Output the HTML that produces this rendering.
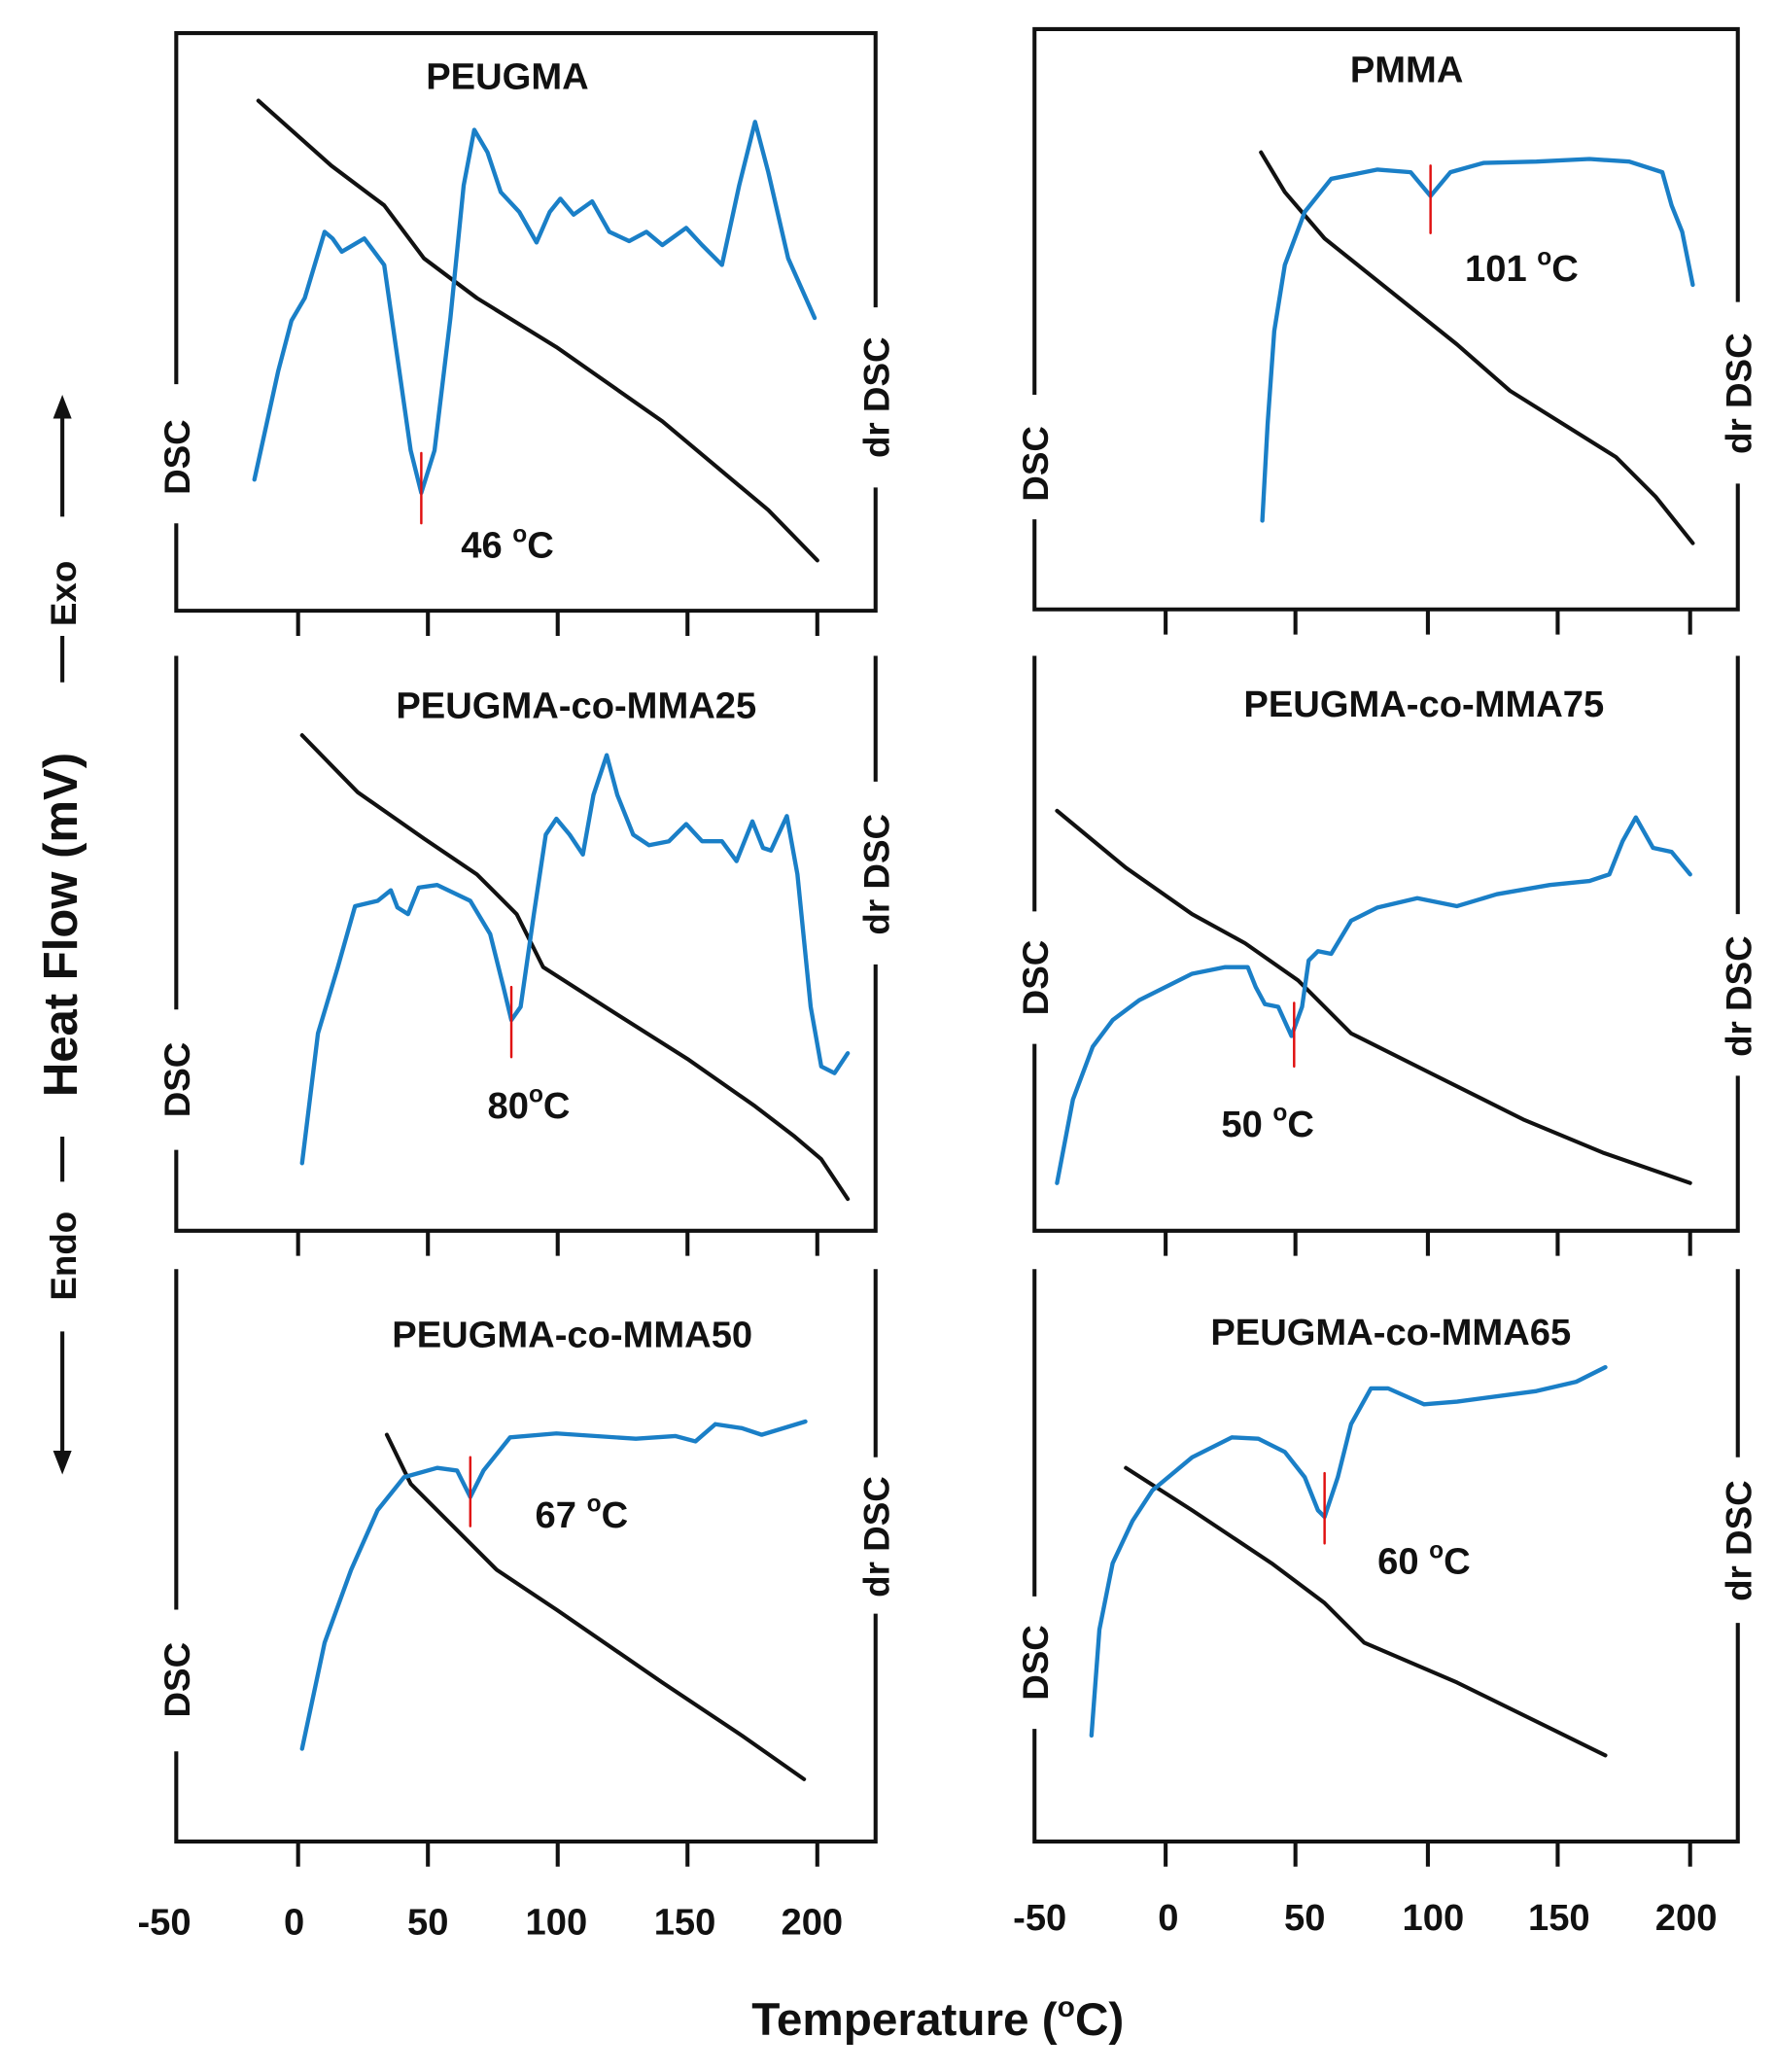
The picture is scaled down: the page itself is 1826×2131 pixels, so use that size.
<!DOCTYPE html>
<html><head><meta charset="utf-8"><style>
html,body{margin:0;padding:0;background:#fff}
svg{display:block}
text{font-family:"Liberation Sans",sans-serif;font-weight:bold;fill:#111}
</style></head><body>
<svg width="1826" height="2131" viewBox="0 0 1340 1564" xmlns="http://www.w3.org/2000/svg">
<g stroke="#111" stroke-width="3" fill="none" stroke-linecap="butt">
<!-- Top-left panel -->
<polyline points="133,290 133,25 661,25 661,232"/>
<polyline points="133,395 133,461 661,461 661,368"/>
<!-- Row 2 left -->
<line x1="133" y1="495" x2="133" y2="762"/>
<polyline points="133,868 133,929 661,929 661,728"/>
<line x1="661" y1="495" x2="661" y2="590"/>
<!-- Row 3 left -->
<line x1="133" y1="958" x2="133" y2="1215"/>
<polyline points="133,1322 133,1390 661,1390 661,1218"/>
<line x1="661" y1="958" x2="661" y2="1100"/>
<!-- Top-right -->
<polyline points="781,298 781,22 1312,22 1312,228"/>
<polyline points="781,392 781,460 1312,460 1312,365"/>
<!-- Row2 right -->
<line x1="781" y1="495" x2="781" y2="688"/>
<polyline points="781,788 781,929 1312,929 1312,812"/>
<line x1="1312" y1="495" x2="1312" y2="690"/>
<!-- Row3 right -->
<line x1="781" y1="958" x2="781" y2="1205"/>
<polyline points="781,1305 781,1390 1312,1390 1312,1225"/>
<line x1="1312" y1="958" x2="1312" y2="1100"/>
<!-- ticks left -->
<path d="M225,461v19M323,461v19M421,461v19M519,461v19M617,461v19
M225,929v19M323,929v19M421,929v19M519,929v19M617,929v19
M225,1390v19M323,1390v19M421,1390v19M519,1390v19M617,1390v19
M880,460v19M978,460v19M1078,460v19M1176,460v19M1276,460v19
M880,929v19M978,929v19M1078,929v19M1176,929v19M1276,929v19
M880,1390v19M978,1390v19M1078,1390v19M1176,1390v19M1276,1390v19"/>
<!-- arrows -->
<line x1="47" y1="390" x2="47" y2="312"/>
<line x1="47" y1="480" x2="47" y2="515"/>
<line x1="47" y1="858" x2="47" y2="892"/>
<line x1="47" y1="1005" x2="47" y2="1100"/>
</g>
<polygon points="47,298 40,316 54,316" fill="#111"/>
<polygon points="47,1113 40,1095 54,1095" fill="#111"/>

<g fill="none" stroke-linejoin="round" stroke-linecap="round">
<!-- black curves -->
<g stroke="#111" stroke-width="3">
<polyline points="195,76 250,125 290,155 320,195 360,225 420,262 500,318 580,385 617,423"/>
<polyline points="952,115 970,145 1000,180 1050,220 1100,260 1140,295 1180,320 1220,345 1250,375 1278,410"/>
<polyline points="228,555 270,598 320,633 360,660 390,690 410,730 460,762 520,800 570,835 600,858 620,875 640,905"/>
<polyline points="798,612 850,655 900,690 940,712 980,740 1020,780 1080,810 1150,845 1210,870 1276,893"/>
<polyline points="292,1083 310,1120 340,1150 375,1185 420,1215 500,1270 560,1310 607,1343"/>
<polyline points="850,1108 900,1140 960,1180 1000,1210 1030,1240 1100,1270 1212,1325"/>
</g>
<g stroke="#1a7fc7" stroke-width="3.2">
<polyline points="192,362 210,280 220,242 230,225 245,175 251,180 258,190 275,180 290,200 300,270 310,340 318,372 328,340 340,240 350,140 358,98 368,115 378,145 392,160 405,183 415,160 423,150 433,162 447,152 460,175 475,182 488,175 500,185 518,172 530,185 545,200 558,140 570,92 580,130 595,195 615,240"/>
<polyline points="953,393 957,320 962,250 970,200 985,160 1005,135 1040,128 1065,130 1080,148 1095,130 1120,123 1160,122 1200,120 1230,122 1255,130 1262,155 1270,175 1278,215"/>
<polyline points="228,878 240,780 255,730 268,684 285,680 295,672 300,685 308,690 316,670 330,668 355,680 370,705 380,745 386,770 393,760 403,690 412,630 420,618 430,630 440,645 448,600 458,570 466,600 478,630 490,638 505,635 518,622 530,635 545,635 556,650 568,620 576,640 582,642 594,616 602,660 612,760 620,805 630,810 640,795"/>
<polyline points="798,893 810,830 825,790 840,770 860,755 880,745 900,735 925,730 942,730 948,745 955,758 965,760 975,782 983,760 988,725 995,718 1005,720 1020,695 1040,685 1070,678 1100,684 1130,675 1170,668 1200,665 1215,660 1225,635 1235,617 1248,640 1262,643 1276,660"/>
<polyline points="228,1320 245,1240 265,1185 285,1140 305,1115 330,1108 345,1110 355,1130 365,1110 385,1085 420,1082 480,1086 510,1084 525,1088 540,1075 560,1078 575,1083 608,1073"/>
<polyline points="824,1310 830,1230 840,1180 855,1148 870,1125 900,1100 930,1085 950,1086 970,1096 985,1115 995,1140 1000,1145 1010,1115 1020,1075 1035,1048 1048,1048 1075,1060 1100,1058 1160,1050 1190,1043 1212,1032"/>
</g>
<g stroke="#e01010" stroke-width="1.8">
<line x1="318" y1="342" x2="318" y2="395"/>
<line x1="1080" y1="125" x2="1080" y2="176"/>
<line x1="386" y1="745" x2="386" y2="798"/>
<line x1="977" y1="757" x2="977" y2="805"/>
<line x1="355" y1="1100" x2="355" y2="1152"/>
<line x1="1000" y1="1112" x2="1000" y2="1165"/>
</g>
</g>

<!-- titles -->
<g font-size="28" text-anchor="middle">
<text x="383" y="67">PEUGMA</text>
<text x="1062" y="62">PMMA</text>
<text x="435" y="542">PEUGMA-co-MMA25</text>
<text x="1075" y="541">PEUGMA-co-MMA75</text>
<text x="432" y="1017">PEUGMA-co-MMA50</text>
<text x="1050" y="1015">PEUGMA-co-MMA65</text>
</g>
<!-- annotations -->
<g font-size="28">
<text x="348" y="421">46 <tspan font-size="18" dy="-12">o</tspan><tspan dy="12">C</tspan></text>
<text x="1106" y="212">101 <tspan font-size="18" dy="-12">o</tspan><tspan dy="12">C</tspan></text>
<text x="368" y="844">80<tspan font-size="18" dy="-12">o</tspan><tspan dy="12">C</tspan></text>
<text x="922" y="858">50 <tspan font-size="18" dy="-12">o</tspan><tspan dy="12">C</tspan></text>
<text x="404" y="1153">67 <tspan font-size="18" dy="-12">o</tspan><tspan dy="12">C</tspan></text>
<text x="1040" y="1188">60 <tspan font-size="18" dy="-12">o</tspan><tspan dy="12">C</tspan></text>
</g>
<!-- DSC labels -->
<g font-size="27" text-anchor="middle">
<text transform="translate(143,345) rotate(-90)">DSC</text>
<text transform="translate(143,815) rotate(-90)">DSC</text>
<text transform="translate(143,1268) rotate(-90)">DSC</text>
<text transform="translate(791,350) rotate(-90)">DSC</text>
<text transform="translate(791,738) rotate(-90)">DSC</text>
<text transform="translate(791,1255) rotate(-90)">DSC</text>
<text transform="translate(671,300) rotate(-90)">dr DSC</text>
<text transform="translate(671,660) rotate(-90)">dr DSC</text>
<text transform="translate(671,1160) rotate(-90)">dr DSC</text>
<text transform="translate(1322,297) rotate(-90)">dr DSC</text>
<text transform="translate(1322,752) rotate(-90)">dr DSC</text>
<text transform="translate(1322,1163) rotate(-90)">dr DSC</text>
</g>
<!-- side labels -->
<text transform="translate(58,698) rotate(-90)" font-size="36" text-anchor="middle">Heat Flow (mV)</text>
<text transform="translate(57,448) rotate(-90)" font-size="27" text-anchor="middle">Exo</text>
<text transform="translate(57,948) rotate(-90)" font-size="27" text-anchor="middle">Endo</text>
<!-- tick labels -->
<g font-size="28" text-anchor="middle">
<text x="124" y="1460">-50</text><text x="222" y="1460">0</text><text x="323" y="1460">50</text><text x="420" y="1460">100</text><text x="517" y="1460">150</text><text x="613" y="1460">200</text>
<text x="785" y="1457">-50</text><text x="882" y="1457">0</text><text x="985" y="1457">50</text><text x="1082" y="1457">100</text><text x="1177" y="1457">150</text><text x="1273" y="1457">200</text>
</g>
<text x="708" y="1536" font-size="35" text-anchor="middle">Temperature (<tspan font-size="22" dy="-14">o</tspan><tspan dy="14">C)</tspan></text>
</svg>
</body></html>
